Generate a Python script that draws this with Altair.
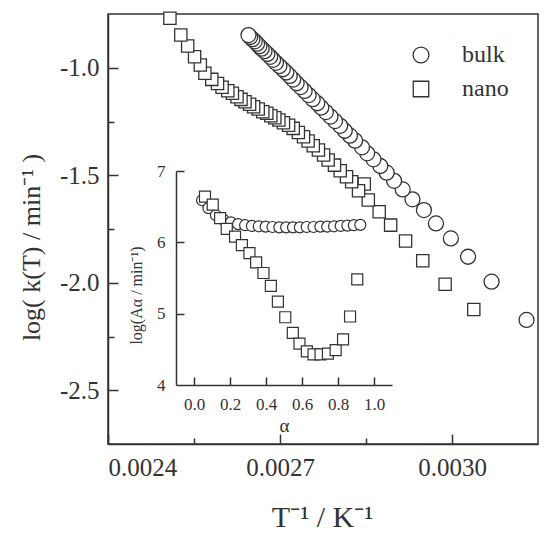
import altair as alt
import pandas as pd

# ---------------- data ----------------
bulk_x = [0.002645, 0.002648, 0.002652, 0.002656, 0.002660, 0.002664, 0.002668, 0.002673,
          0.002678, 0.002683, 0.002688, 0.002693, 0.002699, 0.002705, 0.002711, 0.002717,
          0.002723, 0.002729, 0.002736, 0.002743, 0.002750, 0.002757, 0.002765, 0.002772,
          0.002780, 0.002788, 0.002796, 0.002805, 0.002813, 0.002822, 0.002831, 0.002843,
          0.002852, 0.002863, 0.002875, 0.002886, 0.002899, 0.002914, 0.002931, 0.002951,
          0.002972, 0.002998, 0.003028, 0.003069, 0.003130]
bulk_y = [-0.848, -0.857, -0.867, -0.877, -0.888, -0.900, -0.911, -0.923,
          -0.936, -0.949, -0.963, -0.977, -0.992, -1.007, -1.022, -1.038,
          -1.055, -1.072, -1.090, -1.108, -1.127, -1.146, -1.165, -1.185,
          -1.206, -1.227, -1.248, -1.270, -1.293, -1.316, -1.339, -1.370,
          -1.398, -1.426, -1.457, -1.488, -1.526, -1.566, -1.612, -1.662,
          -1.724, -1.794, -1.879, -1.995, -2.173]

nano_x = [0.002508, 0.002527, 0.002539, 0.002551, 0.002561, 0.002569, 0.002581, 0.002591,
          0.002599, 0.002609, 0.002617, 0.002625, 0.002632, 0.002639, 0.002647, 0.002654,
          0.002662, 0.002670, 0.002677, 0.002684, 0.002691, 0.002698, 0.002706, 0.002715,
          0.002723, 0.002732, 0.002741, 0.002749, 0.002758, 0.002767, 0.002776, 0.002784,
          0.002795, 0.002805, 0.002816, 0.002825, 0.002837, 0.002847, 0.002854, 0.002873,
          0.002893, 0.002919, 0.002949, 0.002988, 0.003038]
nano_y = [-0.770, -0.848, -0.899, -0.949, -0.987, -1.026, -1.054, -1.073,
          -1.091, -1.107, -1.119, -1.135, -1.147, -1.158, -1.170, -1.181,
          -1.192, -1.205, -1.212, -1.223, -1.233, -1.243, -1.256, -1.267,
          -1.282, -1.301, -1.321, -1.341, -1.363, -1.383, -1.406, -1.429,
          -1.453, -1.479, -1.507, -1.530, -1.572, -1.541, -1.615, -1.670,
          -1.732, -1.806, -1.898, -2.007, -2.124]

# inset: log(A_alpha) vs alpha
inset_bulk_a = [0.045, 0.080, 0.122, 0.163, 0.205, 0.245, 0.284, 0.322, 0.360, 0.398, 0.436, 0.474,
                0.512, 0.550, 0.588, 0.626, 0.664, 0.702, 0.740, 0.778, 0.815, 0.852, 0.888, 0.924]
inset_bulk_y = [6.59, 6.48, 6.38, 6.32, 6.28, 6.255, 6.24, 6.23, 6.225, 6.22, 6.215, 6.21,
                6.21, 6.21, 6.21, 6.215, 6.215, 6.22, 6.22, 6.225, 6.23, 6.235, 6.24, 6.245]
inset_nano_a = [0.061, 0.104, 0.145, 0.182, 0.228, 0.266, 0.308, 0.345, 0.386, 0.427, 0.466,
                0.507, 0.549, 0.586, 0.627, 0.664, 0.703, 0.744, 0.787, 0.828, 0.867, 0.907]
inset_nano_y = [6.64, 6.53, 6.34, 6.19, 6.08, 5.96, 5.85, 5.72, 5.57, 5.39, 5.17,
                4.95, 4.73, 4.58, 4.47, 4.43, 4.43, 4.44, 4.49, 4.64, 4.96, 5.48]

x_major = [0.0024, 0.0027, 0.0030]
x_minor = [0.00255, 0.00285]
y_major = [-1.0, -1.5, -2.0, -2.5]
y_minor = [-1.25, -1.75, -2.25]
ix_ticks = [0.0, 0.2, 0.4, 0.6, 0.8, 1.0]
iy_ticks = [4, 5, 6, 7]

bulk_df = pd.DataFrame({"series": "bulk", "x": bulk_x, "y": bulk_y})
nano_df = pd.DataFrame({"series": "nano", "x": nano_x, "y": nano_y})
main_df = pd.concat([bulk_df, nano_df], ignore_index=True)
inset_df = pd.DataFrame({
    "series": ["bulk"] * len(inset_bulk_a) + ["nano"] * len(inset_nano_a),
    "a": inset_bulk_a + inset_nano_a,
    "v": inset_bulk_y + inset_nano_y,
})

# ---------------- styling ----------------
W, H = 430, 430
INK = "#333333"
FONT = "Liberation Serif"
XDOM = [0.0024, 0.00315]
YDOM = [-2.75, -0.75]
IXDOM = [-0.1, 1.1]
IYDOM = [4, 7]
IX_RANGE = [68, 284]
IY_RANGE = [371, 157]

xs = alt.Scale(domain=XDOM, zero=False, nice=False)
ys = alt.Scale(domain=YDOM, zero=False, nice=False)
ixs = alt.Scale(domain=IXDOM, range=IX_RANGE, zero=False, nice=False)
iys = alt.Scale(domain=IYDOM, range=IY_RANGE, zero=False, nice=False)

minus_fmt = "datum.value < 0 ? '-' + format(-datum.value, '.1f') : format(datum.value, '.1f')"


def legend_at(ypos, sym, sym_size):
    return alt.Legend(title=None, orient="none", legendX=301, legendY=ypos,
                      padding=0, labelFontSize=24, labelColor=INK,
                      labelOffset=29, symbolType=sym, symbolSize=sym_size,
                      symbolStrokeColor=INK, symbolStrokeWidth=1.3)


bulk_layer = alt.Chart(bulk_df).mark_point(
    shape="circle", filled=False, color=INK, strokeWidth=1.3, size=225, opacity=1
).encode(
    x=alt.X("x:Q", scale=xs, axis=alt.Axis(
        orient="bottom", values=x_major, format=".4f", ticks=False, tickSize=0,
        labelPadding=31, labelBaseline="alphabetic", labelFontSize=25, labelColor=INK,
        title="T⁻¹ / K⁻¹", titleFontSize=30, titleFontWeight="normal", titleColor=INK,
        titleX=214, titleY=82, titleBaseline="alphabetic", titleAlign="center",
        domainColor=INK, domainWidth=1.5)),
    y=alt.Y("y:Q", scale=ys, axis=alt.Axis(
        orient="left", values=y_major, labelExpr=minus_fmt, ticks=False, tickSize=0,
        labelPadding=9, labelFontSize=25, labelColor=INK,
        title="log( k(T) / min⁻¹ )", titleFontSize=26, titleFontWeight="normal",
        titleColor=INK, titleX=-69, titleY=233, titleAngle=-90,
        titleBaseline="alphabetic", titleAlign="center",
        domainColor=INK, domainWidth=1.5)),
    fill=alt.Fill("series:N", scale=alt.Scale(domain=["bulk"], range=["white"]),
                  legend=legend_at(29, "circle", 250)),
    order=alt.Order("x:Q", sort="descending"),
)

nano_layer = alt.Chart(nano_df).mark_point(
    shape="square", filled=False, color=INK, strokeWidth=1.3, size=150, opacity=1
).encode(
    x=alt.X("x:Q", scale=xs, axis=None),
    y=alt.Y("y:Q", scale=ys, axis=None),
    fill=alt.Fill("series:N", scale=alt.Scale(domain=["nano"], range=["white"]),
                  legend=legend_at(63, "square", 240)),
    order=alt.Order("x:Q", sort="descending"),
)

# inward major ticks of the main frame
main_major = alt.Chart(main_df).mark_point(opacity=0).encode(
    x=alt.X("x:Q", scale=xs, axis=alt.Axis(
        orient="top", offset=-H, values=x_major, labels=False, domain=False,
        tickSize=10, tickColor=INK, tickWidth=1.5, title=None)),
    y=alt.Y("y:Q", scale=ys, axis=alt.Axis(
        orient="right", offset=-W, values=y_major, labels=False, domain=False,
        tickSize=10, tickColor=INK, tickWidth=1.5, title=None)),
)
# inward minor ticks
main_minor = alt.Chart(main_df).mark_point(opacity=0).encode(
    x=alt.X("x:Q", scale=xs, axis=alt.Axis(
        orient="top", offset=-H, values=x_minor, labels=False, domain=False,
        tickSize=6, tickColor=INK, tickWidth=1.5, title=None)),
    y=alt.Y("y:Q", scale=ys, axis=alt.Axis(
        orient="right", offset=-W, values=y_minor, labels=False, domain=False,
        tickSize=6, tickColor=INK, tickWidth=1.5, title=None)),
)

# inset points
inset = alt.Chart(inset_df).mark_point(
    filled=True, fill="white", stroke=INK, strokeWidth=1.2, size=121, opacity=1
).encode(
    x=alt.X("a:Q", scale=ixs, axis=alt.Axis(
        orient="bottom", offset=-(H - IY_RANGE[0]), values=ix_ticks, format=".1f",
        ticks=False, tickSize=0, labelPadding=24, labelBaseline="alphabetic",
        labelFontSize=17, labelColor=INK,
        title="α", titleFontSize=19, titleFontWeight="normal", titleColor=INK,
        titleX=176, titleY=46, titleBaseline="alphabetic", titleAlign="center",
        domainColor=INK, domainWidth=1.5)),
    y=alt.Y("v:Q", scale=iys, axis=alt.Axis(
        orient="left", offset=-IX_RANGE[0], values=iy_ticks, format="d",
        ticks=False, tickSize=0, labelPadding=11, labelFontSize=17, labelColor=INK,
        title="log(Aα / min⁻¹)", titleFontSize=16, titleFontWeight="normal",
        titleColor=INK, titleX=-35, titleY=281, titleAngle=-90,
        titleBaseline="alphabetic", titleAlign="center",
        domainColor=INK, domainWidth=1.5)),
    shape=alt.Shape("series:N", scale=alt.Scale(domain=["bulk", "nano"], range=["circle", "square"]),
                    legend=None),
    order=alt.Order("series:N", sort="ascending"),
)

inset_ticks = alt.Chart(inset_df).mark_point(opacity=0).encode(
    x=alt.X("a:Q", scale=ixs, axis=alt.Axis(
        orient="top", offset=-IY_RANGE[0], values=ix_ticks, labels=False, domain=False,
        tickSize=8, tickColor=INK, tickWidth=1.5, title=None)),
    y=alt.Y("v:Q", scale=iys, axis=alt.Axis(
        orient="right", offset=-(W - IX_RANGE[0]), values=iy_ticks[1:], labels=False,
        domain=False, tickSize=8, tickColor=INK, tickWidth=1.5, title=None)),
)

chart = alt.layer(main_major, main_minor, inset_ticks, inset, nano_layer, bulk_layer).resolve_scale(
    x="independent", y="independent", shape="independent", fill="independent"
).properties(
    width=W, height=H, autosize="none",
    padding={"left": 100, "top": 6, "right": 4, "bottom": 90},
).configure(font=FONT).configure_axis(grid=False).configure_view(
    stroke=INK, strokeWidth=1.5
)

chart.save("out.html", embed_options={"renderer": "svg", "actions": False})
